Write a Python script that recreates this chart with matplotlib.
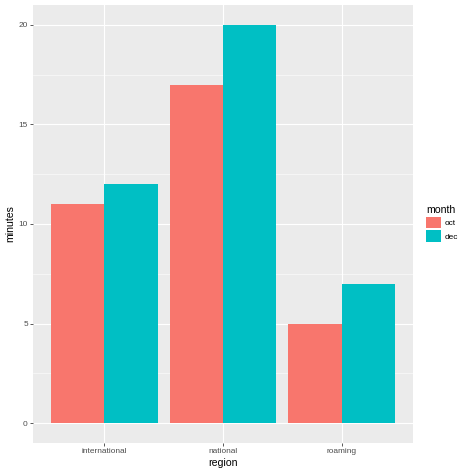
import numpy as np
import matplotlib
matplotlib.use("Agg")
import matplotlib.pyplot as plt
from matplotlib.patches import Patch

regions = ["international", "national", "roaming"]
months = ["oct", "dec"]
oct_minutes = [11, 17, 5]
dec_minutes = [12, 20, 7]
colors = ["#F8766D", "#00BFC4"]


def main():
    plt.rcParams['font.family'] = ['Liberation Sans', 'DejaVu Sans']
    dpi = 72
    fig = plt.figure(figsize=(474 / dpi, 474 / dpi), dpi=dpi)
    ax = fig.add_axes([33 / 474, 31 / 474, 380 / 474, 438 / 474])
    ax.set_facecolor("#EBEBEB")

    x = np.arange(1, len(regions) + 1)
    w = 0.45
    ax.bar(x - w / 2, oct_minutes, width=w, color=colors[0], zorder=3)
    ax.bar(x + w / 2, dec_minutes, width=w, color=colors[1], zorder=3)

    ax.set_xlim(0.4, 3.6)
    ax.set_ylim(-1, 21)
    ax.set_xticks(x)
    ax.set_xticklabels(regions)
    ax.set_yticks([0, 5, 10, 15, 20])
    ax.set_yticks([2.5, 7.5, 12.5, 17.5], minor=True)

    ax.grid(which="major", color="white", linewidth=1.1, zorder=0)
    ax.grid(which="minor", axis="y", color="white", linewidth=0.55, zorder=0)
    ax.set_axisbelow(True)
    for s in ax.spines.values():
        s.set_visible(False)
    ax.tick_params(which="major", length=2.75, width=0.8, color="#333333",
                   labelsize=8.2, labelcolor="#4D4D4D", pad=2.5)
    ax.tick_params(which="minor", length=0)

    ax.set_xlabel("region", fontsize=10.5, labelpad=3)
    ax.set_ylabel("minutes", fontsize=10.5, labelpad=3)

    handles = [Patch(facecolor=c, edgecolor="none") for c in colors]
    fig.legend(handles, months, title="month", loc="upper left",
               bbox_to_anchor=(418 / 474, 1 - 197 / 474), frameon=False,
               fontsize=8.2, title_fontsize=10.5, handlelength=1.8,
               handleheight=1.8, handletextpad=0.4, labelspacing=0.2,
               alignment="left", borderpad=0.5)

    fig.savefig("out.png", dpi=dpi)


if __name__ == "__main__":
    main()
